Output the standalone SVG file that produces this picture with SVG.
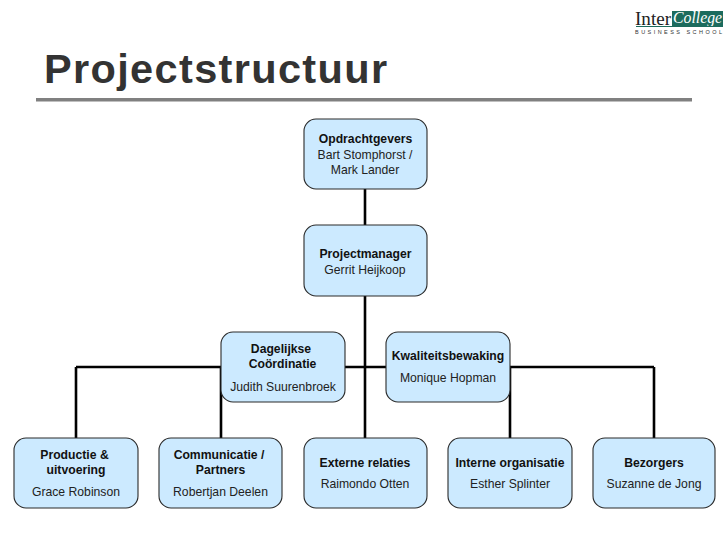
<svg xmlns="http://www.w3.org/2000/svg" width="728" height="546" viewBox="0 0 728 546">
<style>
text{font-family:"Liberation Sans",Arial,sans-serif;font-size:12.2px;fill:#111;text-anchor:middle}
.b{font-weight:bold}
.n{fill:#222}
.box{fill:#cceaff;stroke:#2a2a2a;stroke-width:1.1}
.c{fill:none;stroke:#000;stroke-width:2.6}
</style>
<rect width="728" height="546" fill="#fff"/>
<g id="logo">
<text x="635" y="24.500" textLength="36" lengthAdjust="spacingAndGlyphs" style="font-family:'Liberation Serif',serif;font-size:19px;fill:#222;text-anchor:start">Inter</text>
<rect x="672" y="11" width="51" height="15" fill="#1c6b5d"/>
<text x="673" y="22.500" textLength="49" lengthAdjust="spacingAndGlyphs" style="font-family:'Liberation Serif',serif;font-style:italic;font-size:16px;fill:#fff;text-anchor:start">College</text>
<rect x="636" y="26" width="87" height="1" fill="#1c6b5d"/>
<text x="635" y="33.500" textLength="87" style="font-size:5.500px;fill:#333;text-anchor:start">BUSINESS SCHOOL</text>
</g>
<text id="title" x="44" y="83" style="font-size:41.500px;font-weight:bold;fill:#333;text-anchor:start;letter-spacing:1.350px">Projectstructuur</text>
<rect id="rule" x="36" y="98" width="656" height="3.500" fill="#808080"/>
<g id="connectors" class="c">
<path class="c" d="M365 189V225M365 296V438"/>
<path class="c" d="M76 367H221M345 367H387M510 367H654"/>
<path class="c" d="M76 367V438M221 367V438M510 367V438M654 367V438"/>
</g>
<g id="opdrachtgevers"><rect class="box" x="304" y="119" width="123" height="70" rx="12"/>
<text class="b" x="365.500" y="143">Opdrachtgevers</text><text class="n" x="365" y="158.500">Bart Stomphorst /</text><text class="n" x="365" y="174">Mark Lander</text></g>
<g id="projectmanager"><rect class="box" x="304" y="225" width="123" height="71" rx="12"/>
<text class="b" x="365.500" y="258">Projectmanager</text><text class="n" x="365" y="273.500">Gerrit Heijkoop</text></g>
<g id="dagelijkse"><rect class="box" x="221" y="332" width="124" height="70" rx="12"/>
<text class="b" x="281" y="353">Dagelijkse</text><text class="b" x="282.500" y="368">Coördinatie</text><text class="n" x="283" y="390.500">Judith Suurenbroek</text></g>
<g id="kwaliteit"><rect class="box" x="386" y="332" width="124" height="70" rx="12"/>
<text class="b" x="448" y="360">Kwaliteitsbewaking</text><text class="n" x="448" y="382">Monique Hopman</text></g>
<g id="productie"><rect class="box" x="14" y="438" width="124" height="70" rx="12"/>
<text class="b" x="74.500" y="459">Productie &amp;</text><text class="b" x="76" y="474">uitvoering</text><text class="n" x="76" y="496">Grace Robinson</text></g>
<g id="communicatie"><rect class="box" x="159" y="438" width="123" height="70" rx="12"/>
<text class="b" x="219" y="459">Communicatie /</text><text class="b" x="220.500" y="474">Partners</text><text class="n" x="220.500" y="496">Robertjan Deelen</text></g>
<g id="externe"><rect class="box" x="304" y="438" width="123" height="70" rx="12"/>
<text class="b" x="365" y="466.500">Externe relaties</text><text class="n" x="365" y="488">Raimondo Otten</text></g>
<g id="interne"><rect class="box" x="448" y="438" width="124" height="70" rx="12"/>
<text class="b" x="510" y="466.500">Interne organisatie</text><text class="n" x="510" y="488">Esther Splinter</text></g>
<g id="bezorgers"><rect class="box" x="593" y="438" width="122" height="70" rx="12"/>
<text class="b" x="654" y="466.500">Bezorgers</text><text class="n" x="654" y="488">Suzanne de Jong</text></g>
</svg>
